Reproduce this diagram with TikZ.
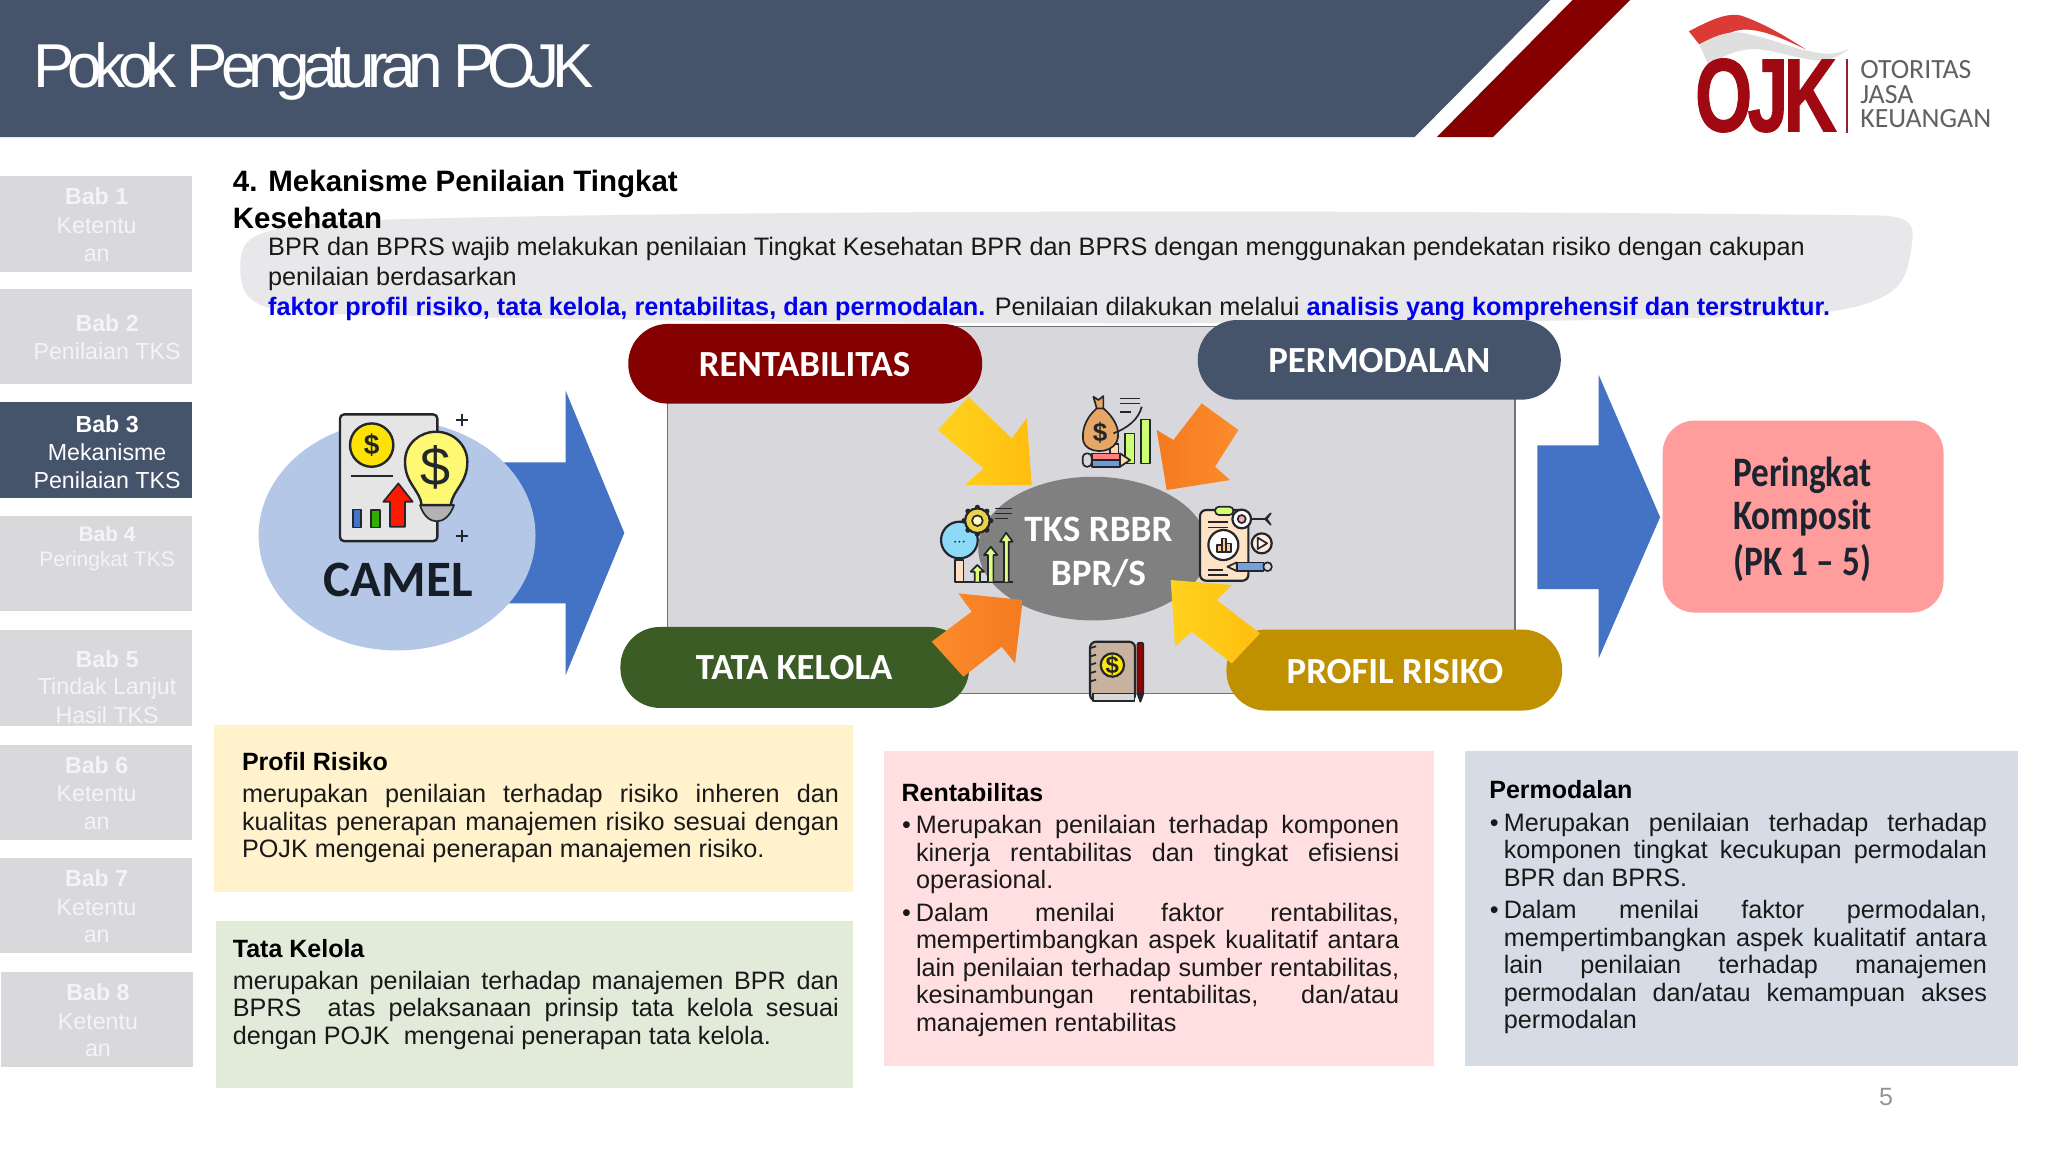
\documentclass[tikz,border=0pt]{standalone}
\usepackage{fontspec}
\setmainfont{Liberation Sans}
\newfontfamily\calfont{Carlito}
\usetikzlibrary{shapes.geometric}
\definecolor{slate}{HTML}{45536B}
\definecolor{maroon}{HTML}{850000}
\definecolor{sidegrey}{HTML}{D9D8DB}
\definecolor{sidetext}{HTML}{F4F4F6}
\definecolor{rectgrey}{HTML}{D8D7DB}
\definecolor{bannergrey}{HTML}{E8E7EA}
\definecolor{bluearrow}{HTML}{4472C4}
\definecolor{ring}{HTML}{B4C7E7}
\definecolor{pillgreen}{HTML}{3B5C24}
\definecolor{pillgold}{HTML}{BF9000}
\definecolor{pinkbox}{HTML}{FF9C9C}
\definecolor{ink}{HTML}{1C2430}
\definecolor{boxyellow}{HTML}{FFF2CC}
\definecolor{boxgreen}{HTML}{E2EBD9}
\definecolor{boxpink}{HTML}{FFDFE0}
\definecolor{boxblue}{HTML}{D6DCE5}
\definecolor{linkblue}{HTML}{0000EE}
\definecolor{icondark}{HTML}{23262B}
\definecolor{ojkred}{HTML}{A00812}
\definecolor{flagred}{HTML}{DC3A34}
\definecolor{yelA}{HTML}{FFD21E}
\definecolor{yelB}{HTML}{FFBE0F}
\definecolor{oraA}{HTML}{F57A1F}
\definecolor{oraB}{HTML}{FB8C2C}
\newcommand{\jl}[1]{\hbox to \linewidth{#1}}
\newcommand{\lastl}[1]{\hbox to \linewidth{#1\hfil}}
\newcommand{\bl}[1]{\hbox to \linewidth{\llap{•\kern2.5pt}#1}}
\newcommand{\boxtext}[2]{\begin{minipage}[t]{#1}\fontsize{12.6}{13.72}\selectfont\baselineskip=13.72pt\lineskiplimit=-10pt #2\end{minipage}}
\tikzset{
  x=0.65306pt,y=-0.65306pt,
  sidebox/.style={fill=sidegrey},
  sidelbl/.style={text=sidetext,font=\fontsize{11.6}{14}\selectfont,align=center,inner sep=0,anchor=center,text height=9.5pt,text depth=0.5pt},
  pilllbl/.style={text=white,font=\calfont\bfseries\fontsize{18.4}{20}\selectfont,inner sep=0},
  boxhead/.style={font=\bfseries\fontsize{12.5}{14}\selectfont,anchor=base west,inner sep=0,text=black},
  boxbody/.style={anchor=base west,inner sep=0,text=black!90},
  ic/.style={draw=icondark,line width=0.85pt,line join=round},
}
\begin{document}
\begin{tikzpicture}
\useasboundingbox (0,0) rectangle (1568,882);
\fill[white] (0,0) rectangle (1568,882);
% header
\fill[slate] (0,0) -- (1187,0) -- (1083,105) -- (0,105) -- cycle;
\fill[maroon] (1204,0) -- (1248,0) -- (1143,105) -- (1100,105) -- cycle;
\node[anchor=base west,inner sep=0,text=white] (title) at (25,67)
  {\fontspec{Liberation Sans}[LetterSpace=-11.5]\fontsize{31}{34}\selectfont Pokok Pengaturan POJK};
% logo
\fill[flagred] (1293,24) .. controls (1310,15) and (1325,8) .. (1336,13)
  .. controls (1355,20) and (1370,30) .. (1383,38)
  .. controls (1362,28) and (1340,18) .. (1325,25) .. controls (1315,28) and (1308,30) .. (1301,34) -- cycle;
\fill[gray!25] (1301,34) .. controls (1312,28) and (1325,22) .. (1338,26)
  .. controls (1358,30) and (1375,38) .. (1385,39)
  .. controls (1395,42) and (1408,42) .. (1416,37)
  .. controls (1405,46) and (1395,48) .. (1383,45)
  .. controls (1365,42) and (1350,36) .. (1337,38)
  .. controls (1325,40) and (1315,44) .. (1309,52) -- cycle;
\node[inner sep=0,text=ojkred,anchor=base] (ojk) at (1352,100.5)
  {\scalebox{0.80}[1.13]{\fontspec{Liberation Sans Bold}[FakeBold=1.2]\fontsize{46}{46}\selectfont O\kern-3pt J\kern-3pt K}};
\draw[ojkred!80!gray,line width=1pt] (1414,45) -- (1414,102);
\node[anchor=north west,inner sep=0,text=black!62,align=left,font=\calfont\fontsize{13.9}{12.2}\selectfont] (ojktxt) at (1424,46.3) {OTORITAS\\JASA\\KEUANGAN};
% sidebar
\fill[sidebox] (0,135) rectangle (147,208);
\fill[sidebox] (0,221) rectangle (147,294);
\fill[slate]   (0,308) rectangle (147,381);
\fill[sidebox] (0,395) rectangle (147,468);
\fill[sidebox] (0,482) rectangle (147,556);
\fill[sidebox] (0,570) rectangle (147,643);
\fill[sidebox] (0,657) rectangle (147,730);
\fill[sidebox] (1,744) rectangle (148,817);
\node[sidelbl] (b1a) at (74,150) {\bfseries Bab 1};
\node[sidelbl] (b1b) at (74,172) {Ketentu};
\node[sidelbl] (b1c) at (74,193) {an};
\node[sidelbl] (b2a) at (82,247) {\bfseries Bab 2};
\node[sidelbl] (b2b) at (82,268) {Penilaian TKS};
\node[sidelbl,text=white] (b3a) at (82,324) {\bfseries Bab 3};
\node[sidelbl,text=white] (b3b) at (82,346) {Mekanisme};
\node[sidelbl,text=white] (b3c) at (82,367) {Penilaian TKS};
\node[sidelbl,font=\fontsize{10.5}{12}\selectfont] (b4a) at (82,408) {\bfseries Bab 4};
\node[sidelbl,font=\fontsize{10.5}{12}\selectfont] (b4b) at (82,427) {Peringkat TKS};
\node[sidelbl] (b5a) at (82,504) {\bfseries Bab 5};
\node[sidelbl] (b5b) at (82,525) {Tindak Lanjut};
\node[sidelbl] (b5c) at (82,547) {Hasil TKS};
\node[sidelbl] (b6a) at (74,585) {\bfseries Bab 6};
\node[sidelbl] (b6b) at (74,607) {Ketentu};
\node[sidelbl] (b6c) at (74,628) {an};
\node[sidelbl] (b7a) at (74,672) {\bfseries Bab 7};
\node[sidelbl] (b7b) at (74,694) {Ketentu};
\node[sidelbl] (b7c) at (74,715) {an};
\node[sidelbl] (b8a) at (75,759) {\bfseries Bab 8};
\node[sidelbl] (b8b) at (75,781) {Ketentu};
\node[sidelbl] (b8c) at (75,802) {an};
% banner
\fill[bannergrey] (184,205) .. controls (184,180) and (190,172) .. (300,168)
  .. controls (600,160) and (1100,161) .. (1440,165)
  .. controls (1462,166) and (1466,172) .. (1464,185)
  .. controls (1460,215) and (1458,232) .. (1390,240)
  .. controls (1200,250) and (600,250) .. (240,240)
  .. controls (195,238) and (184,230) .. (184,205) -- cycle;
% heading
\node[anchor=base west,inner sep=0,text=black,font=\bfseries\fontsize{14.75}{18}\selectfont] (h1) at (178,146.6) {4. Mekanisme Penilaian Tingkat};
\node[anchor=base west,inner sep=0,text=black,font=\bfseries\fontsize{14.75}{18}\selectfont] (h2) at (178,174.6) {Kesehatan};
% banner text
\node[anchor=base west,inner sep=0,text=black!90,font=\fontsize{12.63}{15}\selectfont] (t1) at (205,195.6) {BPR dan BPRS wajib melakukan penilaian Tingkat Kesehatan BPR dan BPRS dengan menggunakan pendekatan risiko dengan cakupan};
\node[anchor=base west,inner sep=0,text=black!90,font=\fontsize{12.63}{15}\selectfont] (t2) at (205,218.6) {penilaian berdasarkan};
\node[anchor=base west,inner sep=0,text=black!90,font=\fontsize{12.63}{15}\selectfont] (t3) at (205,241.6) {{\bfseries\color{linkblue}faktor profil risiko, tata kelola, rentabilitas, dan permodalan.} Penilaian dilakukan melalui {\bfseries\color{linkblue}analisis yang komprehensif dan terstruktur.}};
% central rectangle
\draw[fill=rectgrey,draw=black!55,line width=0.8pt] (511,250) rectangle (1160,531);
% big arrows
\fill[bluearrow] (375,354) -- (433,354) -- (433,299) -- (478,408) -- (433,517) -- (433,462) -- (375,462) -- cycle;
\fill[bluearrow] (1177,341) -- (1224,341) -- (1224,287) -- (1271,396) -- (1224,504) -- (1224,451) -- (1177,451) -- cycle;
% CAMEL
\fill[ring] (304,410) ellipse [x radius=106,y radius=88];
\begin{scope}[shift={(176.1,291)},scale=0.2552]
  \draw[ic,fill=black!10,line width=1.2pt,rounded corners=2pt] (330,103) rectangle (622,483);
  \draw[ic,fill=yellow!85!orange,line width=1.2pt] (425,195) circle [radius=65];
  \node[inner sep=0,font=\bfseries\fontsize{14}{14}\selectfont,text=icondark] (coin) at (425,195) {\$};
  \draw[ic,line width=1.2pt] (362,287) -- (488,287);
  \draw[ic,fill=bluearrow] (370,388) rectangle (393,442);
  \draw[ic,fill=green!60!black!80!yellow] (423,390) rectangle (450,442);
  \draw[ic,fill=red!80!orange] (480,440) -- (480,365) -- (460,365) -- (505,310) -- (548,365) -- (525,365) -- (525,440) -- cycle;
  \draw[ic,fill=gray!60] (570,375) .. controls (590,440) and (650,440) .. (672,375) -- cycle;
  \draw[ic,fill=yellow!55,line width=1.2pt] (575,375) .. controls (570,330) and (525,310) .. (525,245) .. controls (525,190) and (570,155) .. (618,155)
     .. controls (670,155) and (712,195) .. (712,245) .. controls (712,310) and (668,330) .. (662,375) -- cycle;
  \node[inner sep=0,font=\fontsize{27}{27}\selectfont,text=icondark] (bulbs) at (618,262) {\$};
  \draw[icondark,line width=1.3pt] (677,120) -- (715,120) (696,101) -- (696,139);
  \draw[icondark,line width=1.3pt] (677,468) -- (715,468) (696,449) -- (696,487);
\end{scope}
\node[inner sep=0,text=ink!80!black,font=\calfont\bfseries\fontsize{25.5}{28}\selectfont] (camel) at (305,444) {CAMEL};
% pills
\fill[maroon,rounded corners=19.8pt] (481,248) rectangle (752,309);
\fill[slate,rounded corners=19.8pt] (917,245) rectangle (1195,306);
\fill[pillgreen,rounded corners=19.8pt] (475,480) rectangle (742,542);
\fill[pillgold,rounded corners=19.8pt] (939,482) rectangle (1196,544);
\node[pilllbl] (pr) at (616,279) {RENTABILITAS};
\node[pilllbl] (pp) at (1056,276) {PERMODALAN};
\node[pilllbl] (pt) at (608,511) {TATA KELOLA};
\node[pilllbl] (pf) at (1068,514) {PROFIL RISIKO};
% centre ellipse
\fill[black!50] (837,420) ellipse [x radius=88,y radius=55];
\node[inner sep=0,text=white,font=\calfont\bfseries\fontsize{18.6}{20}\selectfont] (c1) at (841,405) {TKS RBBR};
\node[inner sep=0,text=white,font=\calfont\bfseries\fontsize{18.6}{20}\selectfont] (c2) at (841,439) {BPR/S};
\begin{scope}[shift={(689.1,283.3)},scale=0.2552]
  % block arrows
  \shade[left color=yelA,right color=yelB] (205,80) -- (335,205) -- (380,145) -- (395,345) -- (195,345) -- (250,295) -- (113,180) -- cycle;
  \shade[left color=oraA,right color=oraB] (905,100) -- (1015,180) -- (945,290) -- (990,330) -- (800,360) -- (770,180) -- (820,210) -- cycle;
  \shade[left color=oraB,right color=oraA] (95,815) -- (215,725) -- (175,670) -- (368,690) -- (345,880) -- (305,830) -- (190,920) -- cycle;
  \shade[left color=yelA,right color=yelB] (812,630) -- (995,645) -- (950,690) -- (1080,790) -- (995,880) -- (875,785) -- (825,830) -- cycle;
  % money bag icon
  \draw[ic,fill=green!35!yellow!55!white] (675,190) rectangle (703,280);
  \draw[ic,fill=green!35!yellow!55!white] (722,148) rectangle (750,280);
  \draw[ic,fill=orange!30!white] (630,222) rectangle (655,280);
  \draw[ic,fill=brown!55!orange!70!white] (590,115) .. controls (550,150) and (545,190) .. (550,215) .. controls (560,250) and (630,255) .. (650,215) .. controls (665,180) and (640,140) .. (610,115) -- cycle;
  \draw[ic,fill=brown!55!orange!70!white] (590,115) -- (580,80) -- (595,90) -- (610,78) -- (610,115) -- cycle;
  \node[inner sep=0,font=\bfseries\fontsize{13}{13}\selectfont,text=icondark] (bag) at (600,187) {\$};
  \draw[ic] (640,190) .. controls (680,175) and (715,150) .. (725,110);
  \draw[ic] (660,85) -- (720,85) (660,100) -- (720,100) (660,125) -- (692,125);
  \draw[ic,fill=gray!30,rounded corners=2pt] (548,250) rectangle (575,290);
  \draw[ic,fill=red!50!white] (575,250) rectangle (660,270);
  \draw[ic,fill=cyan!50!blue!60!white] (575,270) rectangle (660,290);
  \draw[ic,fill=orange!30!white] (660,250) -- (690,270) -- (660,290) -- cycle;
  % magnifier icon
  \draw[ic,fill=orange!25!white] (165,570) rectangle (190,635);
  \draw[ic,fill=cyan!45!white,line width=1.1pt] (178,510) circle [radius=55];
  \draw[ic,line width=1.2pt] (165,635) -- (340,635);
  \draw[ic,fill=green!25!yellow!50!white] (312,635) -- (312,515) -- (300,515) -- (318,488) -- (338,515) -- (326,515) -- (326,635);
  \draw[ic,fill=green!25!yellow!50!white] (264,635) -- (264,555) -- (252,555) -- (272,530) -- (292,555) -- (280,555) -- (280,635);
  \draw[ic,fill=green!25!yellow!50!white] (224,635) -- (224,605) -- (212,605) -- (232,585) -- (252,605) -- (240,605) -- (240,635);
  \foreach \a in {0,45,...,315} {\fill[icondark] (232,452) ++(\a:40) circle [radius=8];}
  \draw[ic,fill=yellow!60!brown!85!white,line width=1.1pt] (232,452) circle [radius=37];
  \draw[ic,fill=yellow!25!white] (232,452) circle [radius=16];
  \draw[ic] (285,415) -- (335,415) (285,430) -- (335,430) (285,445) -- (325,445);
  \fill[icondark] (165,515) circle [radius=3] (178,515) circle [radius=3] (191,515) circle [radius=3];
  % clipboard icon
  \draw[ic,fill=orange!22!white,line width=1.1pt,rounded corners=3pt] (900,420) rectangle (1045,632);
  \draw[ic,fill=green!30!yellow!55!white,rounded corners=2pt] (945,410) rectangle (1000,435);
  \draw[ic] (925,455) -- (985,455) (925,472) -- (985,472) (925,600) -- (970,600) (925,615) -- (985,615);
  \draw[ic,fill=white,line width=1.1pt] (970,525) circle [radius=45];
  \draw[ic,fill=orange!40!white] (950,545) rectangle (965,525) (965,545) rectangle (978,505) (978,545) rectangle (992,520);
  \draw[ic,fill=white,line width=1.1pt] (1025,447) circle [radius=28];
  \draw[ic,fill=pink!90!red] (1025,447) circle [radius=12];
  \draw[ic,line width=1.1pt] (1050,447) -- (1095,447);
  \draw[ic,fill=green!30!gray!40!white] (1095,447) -- (1112,430) -- (1100,447) -- (1112,464) -- cycle;
  \draw[ic,fill=orange!15!white,line width=1.1pt] (1085,520) circle [radius=30];
  \draw[ic,fill=white] (1073,503) -- (1073,537) -- (1101,520) -- cycle;
  \draw[ic,fill=cyan!50!blue!55!white] (1010,577) rectangle (1090,603);
  \draw[ic,fill=gray!30,rounded corners=2pt] (1090,577) rectangle (1115,603);
  \draw[ic,fill=orange!25!white] (1010,577) -- (982,590) -- (1010,603) -- cycle;
  % book icon
  \draw[ic,fill=brown!55!gray!60!white,line width=1.1pt,rounded corners=3pt] (570,815) rectangle (705,992);
  \draw[ic,fill=gray!30] (578,970) rectangle (703,992);
  \foreach \yy in {835,860,885,910,935} {\draw[ic] (568,\yy) -- (588,\yy-6);}
  \draw[ic,fill=yellow!90!orange,line width=1.1pt] (637,885) circle [radius=35];
  \node[inner sep=0,font=\bfseries\fontsize{12}{12}\selectfont,text=icondark] (bookd) at (637,885) {\$};
  \draw[ic,fill=red!60!black,rounded corners=1pt] (712,818) rectangle (730,970);
  \draw[ic,fill=icondark] (712,970) -- (730,970) -- (721,995) -- cycle;
\end{scope}
% right box
\fill[pinkbox,rounded corners=16pt] (1273,322) rectangle (1488,469);
\node[inner sep=0,text=ink,font=\calfont\bfseries\fontsize{20}{22}\selectfont] (k1) at (1380,364) {\scalebox{0.88}[1.05]{Peringkat}};
\node[inner sep=0,text=ink,font=\calfont\bfseries\fontsize{20}{22}\selectfont] (k2) at (1380,397) {\scalebox{0.88}[1.05]{Komposit}};
\node[inner sep=0,text=ink,font=\calfont\bfseries\fontsize{20}{22}\selectfont] (k3) at (1380,431) {\scalebox{0.88}[1.05]{(PK 1 – 5)}};
% bottom boxes
\fill[boxyellow] (164,555) rectangle (653,683);
\fill[boxgreen] (165,705) rectangle (653,833);
\fill[boxpink] (677,575) rectangle (1098,816);
\fill[boxblue] (1122,575) rectangle (1545,816);
\node[boxhead] (pfh) at (185,590) {Profil Risiko};
\node[boxbody] (pfb) at (185,614.5) {\boxtext{298.5pt}{%
  \jl{merupakan penilaian terhadap risiko inheren dan}
  \jl{kualitas penerapan manajemen risiko sesuai dengan}
  \lastl{POJK mengenai penerapan manajemen risiko.}}};
\node[boxhead] (tkh) at (178,733) {Tata Kelola};
\node[boxbody] (tkb) at (178,757.5) {\boxtext{303pt}{%
  \jl{merupakan penilaian terhadap manajemen BPR dan}
  \jl{BPRS\ \ atas pelaksanaan prinsip tata kelola sesuai}
  \lastl{dengan POJK\ \ mengenai penerapan tata kelola.}}};
\node[boxhead] (reh) at (690,614) {Rentabilitas};
\node[boxbody] (reb) at (701,638.5) {\boxtext{241.6pt}{%
  \bl{Merupakan penilaian terhadap komponen}
  \jl{kinerja rentabilitas dan tingkat efisiensi}
  \lastl{operasional.}
  \vskip 2.6pt
  \bl{Dalam menilai faktor rentabilitas,}
  \jl{mempertimbangkan aspek kualitatif antara}
  \jl{lain penilaian terhadap sumber rentabilitas,}
  \jl{kesinambungan rentabilitas, dan/atau}
  \lastl{manajemen rentabilitas}}};
\node[boxhead] (peh) at (1140,611) {Permodalan};
\node[boxbody] (peb) at (1151,636.5) {\boxtext{241.6pt}{%
  \bl{Merupakan penilaian terhadap terhadap}
  \jl{komponen tingkat kecukupan permodalan}
  \lastl{BPR dan BPRS.}
  \vskip 2.6pt
  \bl{Dalam menilai faktor permodalan,}
  \jl{mempertimbangkan aspek kualitatif antara}
  \jl{lain penilaian terhadap manajemen}
  \jl{permodalan dan/atau kemampuan akses}
  \lastl{permodalan}}};
\node[inner sep=0,text=black!42,font=\fontsize{12.5}{14}\selectfont] (pg) at (1444,840) {5};
\end{tikzpicture}
\end{document}
